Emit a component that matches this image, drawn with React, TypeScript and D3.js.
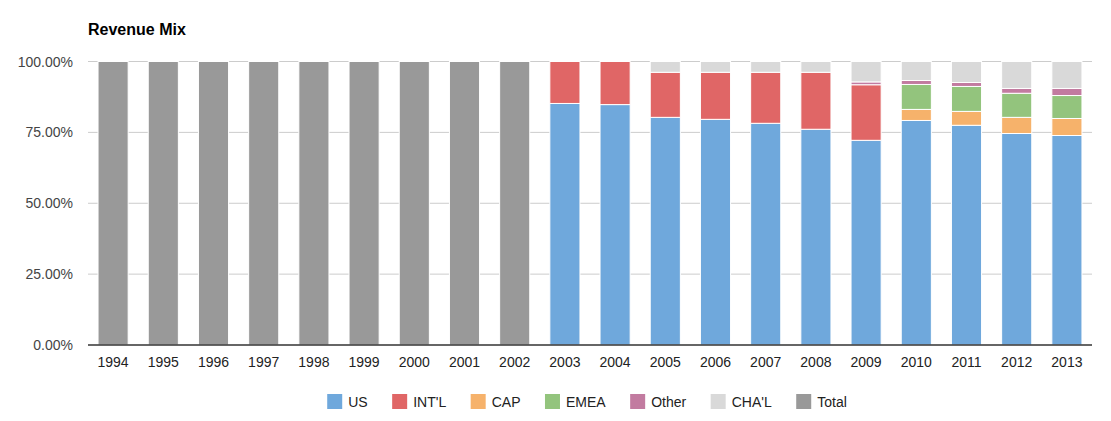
import React, { useEffect, useRef } from "react";
import * as d3 from "d3";

const years = ["1994","1995","1996","1997","1998","1999","2000","2001","2002","2003","2004","2005","2006","2007","2008","2009","2010","2011","2012","2013"];
const seriesNames = ["US", "INT'L", "CAP", "EMEA", "Other", "CHA'L", "Total"];
const colors = ["#6fa8dc", "#e06666", "#f6b26b", "#93c47d", "#c27ba0", "#d9d9d9", "#999999"];

const us =    [0,0,0,0,0,0,0,0,0, 85.2, 84.8, 80.3, 79.6, 78.2, 76.1, 72.2, 79.2, 77.5, 74.6, 73.9];
const intl =  [0,0,0,0,0,0,0,0,0, 14.8, 15.2, 15.9, 16.6, 18.0, 20.1, 19.6, 0, 0, 0, 0];
const cap =   [0,0,0,0,0,0,0,0,0, 0, 0, 0, 0, 0, 0, 0, 3.9, 4.9, 5.7, 6.0];
const emea =  [0,0,0,0,0,0,0,0,0, 0, 0, 0, 0, 0, 0, 0, 8.8, 8.8, 8.5, 8.1];
const other = [0,0,0,0,0,0,0,0,0, 0, 0, 0, 0, 0, 0, 1.0, 1.4, 1.4, 1.7, 2.5];
const chal =  [0,0,0,0,0,0,0,0,0, 0, 0, 3.8, 3.8, 3.8, 3.8, 7.2, 6.7, 7.4, 9.5, 9.5];
const total = [100,100,100,100,100,100,100,100,100, 0,0,0,0,0,0,0,0,0,0,0];
const yTicks = [0, 25, 50, 75, 100];

const W = 1111, H = 421;
const FONT = "'Liberation Sans', Arial, sans-serif";

export default function App() {
  const ref = useRef<SVGSVGElement>(null);
  useEffect(() => {
    document.body.style.margin = "0";
    const svg = d3.select(ref.current);
    svg.selectAll("*").remove();
    const m = { left: 88, right: 1092, top: 61.5, bottom: 345 };
    const x = d3.scaleBand().domain(years).range([m.left, m.right]).paddingInner(0.4).paddingOuter(0.2);
    const y = d3.scaleLinear().domain([0, 100]).range([m.bottom, m.top]);

    const seriesVals = [us, intl, cap, emea, other, chal, total];
    const rows = years.map((yr, i) => {
      const r: any = { year: yr };
      seriesNames.forEach((s, k) => (r[s] = seriesVals[k][i]));
      return r;
    });
    const stack = d3.stack().keys(seriesNames)(rows as any);

    svg.append("text").attr("x", 88).attr("y", 35).text("Revenue Mix")
      .attr("font-family", FONT).attr("font-size", 16).attr("font-weight", "bold").attr("fill", "#000");

    const grid = svg.append("g");
    yTicks.forEach((t) => {
      if (t > 0) {
        grid.append("line").attr("x1", m.left).attr("x2", m.right).attr("y1", y(t)).attr("y2", y(t))
          .attr("stroke", "#cccccc").attr("stroke-width", 1);
      }
      svg.append("text").attr("x", 73).attr("y", y(t) + 5).attr("text-anchor", "end")
        .attr("font-family", FONT).attr("font-size", 14).attr("fill", "#444").text(d3.format(".2f")(t) + "%");
    });

    stack.forEach((layer, k) => {
      svg.append("g").selectAll("rect").data(layer.filter((d) => d[1] - d[0] > 0)).enter().append("rect")
        .attr("x", (d: any) => x(d.data.year)!)
        .attr("width", x.bandwidth())
        .attr("y", (d) => y(d[1]))
        .attr("height", (d) => y(d[0]) - y(d[1]))
        .attr("fill", colors[k])
        .attr("stroke", "#ffffff").attr("stroke-width", 1);
    });

    svg.append("line").attr("x1", m.left).attr("x2", m.right).attr("y1", y(0)).attr("y2", y(0))
      .attr("stroke", "#333333").attr("stroke-width", 1.5);

    years.forEach((yr) => {
      svg.append("text").attr("x", x(yr)! + x.bandwidth() / 2).attr("y", 367).attr("text-anchor", "middle")
        .attr("font-family", FONT).attr("font-size", 14).attr("fill", "#222").text(yr);
    });

    const lg = svg.append("g");
    let cx = 0;
    seriesNames.forEach((s, k) => {
      const g = lg.append("g").attr("transform", `translate(${cx},0)`);
      g.append("rect").attr("x", 0).attr("y", 394).attr("width", 15).attr("height", 15).attr("fill", colors[k]);
      const t = g.append("text").attr("x", 21).attr("y", 407).attr("font-family", FONT).attr("font-size", 14)
        .attr("fill", "#222").text(s);
      const tw = (t.node() as SVGTextElement).getComputedTextLength();
      cx += 21 + tw + 24.5;
    });
    const totalW = cx - 24.5;
    const start = (m.left + m.right) / 2 - totalW / 2 - 3;
    lg.attr("transform", `translate(${start},0)`);
  }, []);
  return <svg ref={ref} width={W} height={H} style={{ display: "block", background: "#fff" }} />;
}
